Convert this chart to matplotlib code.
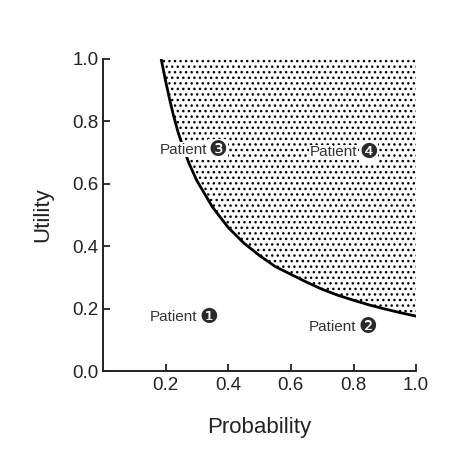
import matplotlib
matplotlib.use("Agg")
import matplotlib.pyplot as plt

# Threshold curve
prob = [0.186, 0.2, 0.212, 0.225, 0.24, 0.25, 0.275, 0.3, 0.35, 0.4, 0.45, 0.5, 0.55, 0.6,
        0.65, 0.7, 0.75, 0.8, 0.85, 0.9, 0.95, 1.0]
util = [1.0, 0.93, 0.875, 0.82, 0.765, 0.735, 0.665, 0.61, 0.525, 0.46, 0.41, 0.37, 0.335, 0.31,
        0.285, 0.262, 0.243, 0.227, 0.212, 0.199, 0.187, 0.176]

patient_names = ["Patient", "Patient", "Patient", "Patient"]
patient_marks = ["\u2776", "\u2777", "\u2778", "\u2779"]
patient_x = [0.339, 0.845, 0.368, 0.848]
patient_y = [0.173, 0.141, 0.709, 0.700]

xticks = [0.2, 0.4, 0.6, 0.8, 1.0]
yticks = [0.0, 0.2, 0.4, 0.6, 0.8, 1.0]

fam = ["Liberation Sans", "DejaVu Sans"]
plt.rcParams["font.family"] = fam
plt.rcParams["hatch.linewidth"] = 1.0
plt.rcParams["hatch.color"] = "black"

fig = plt.figure(figsize=(4.74, 4.74), dpi=100)
ax = fig.add_axes([0.217, 0.217, 0.661, 0.659])

ax.fill_between(prob, util, 1.0, facecolor="white", edgecolor="black",
                hatch="...", linewidth=0)
ax.plot(prob, util, color="black", lw=2.0, solid_capstyle="butt")

for name, mark, x, y in zip(patient_names, patient_marks, patient_x, patient_y):
    ax.text(x, y, mark, ha="center", va="center", fontsize=15, color="#2a2a2a",
            family=["DejaVu Sans"],
            bbox=dict(facecolor="white", edgecolor="none", pad=0.3))
    ax.annotate(name, (x, y), xytext=(-8.2, 0), textcoords="offset points",
                ha="right", va="center", fontsize=11, color="#333333",
                bbox=dict(facecolor="white", edgecolor="none", pad=0.5))

ax.set_xlim(0, 1)
ax.set_ylim(0, 1)
ax.set_xticks(xticks)
ax.set_xticklabels([f"{t:.1f}" for t in xticks])
ax.set_yticks(yticks)
ax.set_yticklabels([f"{t:.1f}" for t in yticks])
for s in ["top", "right"]:
    ax.spines[s].set_visible(False)
for s in ["left", "bottom"]:
    ax.spines[s].set_linewidth(1.4)
    ax.spines[s].set_color("#222222")
ax.tick_params(direction="in", length=5, width=1.3, labelsize=13.5,
               colors="#222222", pad=4)
ax.tick_params(axis="y", pad=3)
ax.set_xlabel("Probability", fontsize=16, color="#222222", labelpad=17)
ax.set_ylabel("Utility", fontsize=16, color="#222222", labelpad=14)

fig.savefig("out.png", dpi=100)
